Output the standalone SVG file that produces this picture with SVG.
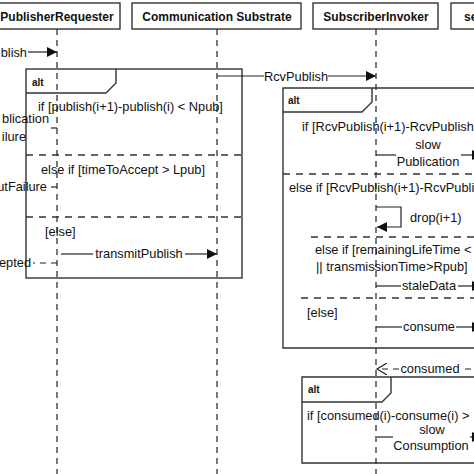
<svg xmlns="http://www.w3.org/2000/svg" width="474" height="474" viewBox="0 0 474 474">
<defs>
<marker id="fill" markerUnits="userSpaceOnUse" markerWidth="11" markerHeight="10" refX="10" refY="5" orient="auto">
<path d="M0,0 L10,5 L0,10 z" fill="#111"/>
</marker>
<marker id="open" markerUnits="userSpaceOnUse" markerWidth="12" markerHeight="12" refX="10" refY="6" orient="auto">
<path d="M0,0 L10,6 L0,12" fill="none" stroke="#222" stroke-width="1.2"/>
</marker>
</defs>
<style>
.hdr{fill:#fff;stroke:#333;stroke-width:1.4}
.ht{font-family:"Liberation Sans",Arial,sans-serif;font-size:12px;font-weight:bold;fill:#111;text-anchor:middle}
.t{font-family:"Liberation Sans",Arial,sans-serif;font-size:12.8px;fill:#111}
.m{text-anchor:middle}
.e{text-anchor:end}
.alt{font-family:"Liberation Sans",Arial,sans-serif;font-size:10px;font-weight:bold;fill:#111}
.life{stroke:#333;stroke-width:1.3;stroke-dasharray:6,5;fill:none}
.frame{fill:none;stroke:#333;stroke-width:1.4}
.sep{stroke:#333;stroke-width:1.3;stroke-dasharray:7,6;fill:none}
.msg{stroke:#222;stroke-width:1.2;fill:none}
.ret{stroke:#222;stroke-width:1.2;fill:none;stroke-dasharray:6,5}
</style>
<rect width="474" height="474" fill="#fff"/>

<g id="lifelines">
<line class="life" x1="57" y1="29" x2="57" y2="474"/>
<line class="life" x1="217" y1="29" x2="217" y2="474"/>
<line class="life" x1="376" y1="29" x2="376" y2="474"/>
</g>

<g id="PublisherRequester">
<rect class="hdr" x="-8" y="3" width="128" height="26"/>
<text class="ht" x="57" y="21">PublisherRequester</text>
</g>
<g id="CommunicationSubstrate">
<rect class="hdr" x="132" y="3" width="169" height="26"/>
<text class="ht" x="217" y="21">Communication Substrate</text>
</g>
<g id="SubscriberInvoker">
<rect class="hdr" x="313" y="3" width="125" height="26"/>
<text class="ht" x="376" y="21">SubscriberInvoker</text>
</g>
<g id="Subscriber">
<rect class="hdr" x="451" y="3" width="70" height="26"/>
<text class="ht" x="464" y="21" style="text-anchor:start">se</text>
</g>

<g id="alt1">
<rect class="frame" x="26" y="69" width="216" height="209"/>
<path class="frame" d="M26,93 L106,93 L116,83 L116,69"/>
<text class="alt" x="32" y="86">alt</text>
<text class="t" x="38" y="111">if [publish(i+1)-publish(i) &lt; Npub]</text>
<line class="sep" x1="26" y1="155" x2="242" y2="155"/>
<text class="t" x="41" y="174">else if [timeToAccept &gt; Lpub]</text>
<line class="sep" x1="26" y1="217" x2="242" y2="217"/>
<text class="t" x="45" y="236">[else]</text>
</g>

<g id="alt2">
<path class="frame" d="M480,88 L283,88 L283,348 L480,348"/>
<path class="frame" d="M283,112 L362,112 L372,102 L372,88"/>
<text class="alt" x="288" y="104">alt</text>
<text class="t" x="302" y="131">if [RcvPublish(i+1)-RcvPublish(</text>
<line class="sep" x1="283" y1="174" x2="474" y2="174"/>
<text class="t" x="289" y="192">else if [RcvPublish(i+1)-RcvPublis</text>
<line class="sep" x1="311" y1="237" x2="474" y2="237"/>
<text class="t" x="315" y="254">else if [remainingLifeTime &lt;</text>
<text class="t" x="316" y="271">|| transmissionTime&gt;Rpub]</text>
<line class="sep" x1="301" y1="298" x2="474" y2="298"/>
<text class="t" x="307" y="317">[else]</text>
</g>

<g id="alt3">
<path class="frame" d="M480,377 L302,377 L302,463 L480,463"/>
<path class="frame" d="M302,402 L382,402 L391,393 L391,377"/>
<text class="alt" x="308" y="393">alt</text>
<text class="t" x="307" y="420">if [consumed(i)-consume(i) &gt;</text>
</g>

<g id="connectors">
<line class="msg" x1="28" y1="52" x2="57" y2="52" marker-end="url(#fill)"/>
<text class="t e" x="27" y="57">blish</text>

<line class="ret" x1="57" y1="128" x2="50" y2="128"/>
<text class="t e" x="49" y="123">blication</text>
<text class="t e" x="26" y="141">ilure</text>

<line class="ret" x1="57" y1="187" x2="48" y2="187"/>
<text class="t e" x="47" y="191">utFailure</text>

<line class="ret" x1="57" y1="263" x2="33" y2="263"/>
<text class="t e" x="31" y="267">epted</text>

<line class="msg" x1="61" y1="254" x2="93" y2="254"/>
<line class="msg" x1="185" y1="254" x2="217" y2="254" marker-end="url(#fill)"/>
<text class="t m" x="139" y="258">transmitPublish</text>

<line class="msg" x1="217" y1="76" x2="264" y2="76"/>
<line class="msg" x1="328" y1="76" x2="376" y2="76" marker-end="url(#fill)"/>
<text class="t m" x="296" y="81">RcvPublish</text>

<line class="msg" x1="376" y1="155" x2="396" y2="155"/>
<line class="msg" x1="461" y1="155" x2="482" y2="155" marker-end="url(#fill)"/>
<text class="t m" x="428" y="149">slow</text>
<text class="t m" x="428" y="166">Publication</text>

<path class="msg" d="M376,207 L401,207 L401,227 L377,227" marker-end="url(#fill)"/>
<text class="t" x="410" y="222">drop(i+1)</text>

<line class="msg" x1="376" y1="286" x2="401" y2="286"/>
<line class="msg" x1="458" y1="286" x2="482" y2="286" marker-end="url(#fill)"/>
<text class="t m" x="429" y="290">staleData</text>

<line class="msg" x1="376" y1="327" x2="402" y2="327"/>
<line class="msg" x1="456" y1="327" x2="482" y2="327" marker-end="url(#fill)"/>
<text class="t m" x="429" y="331">consume</text>

<line class="ret" x1="399" y1="369" x2="377" y2="369" marker-end="url(#open)"/>
<line class="ret" x1="482" y1="369" x2="462" y2="369"/>
<text class="t m" x="430" y="373">consumed</text>

<line class="msg" x1="377" y1="437" x2="393" y2="437"/>
<line class="msg" x1="470" y1="437" x2="482" y2="437" marker-end="url(#fill)"/>
<text class="t m" x="432" y="434">slow</text>
<text class="t m" x="431" y="450">Consumption</text>
</g>
</svg>
